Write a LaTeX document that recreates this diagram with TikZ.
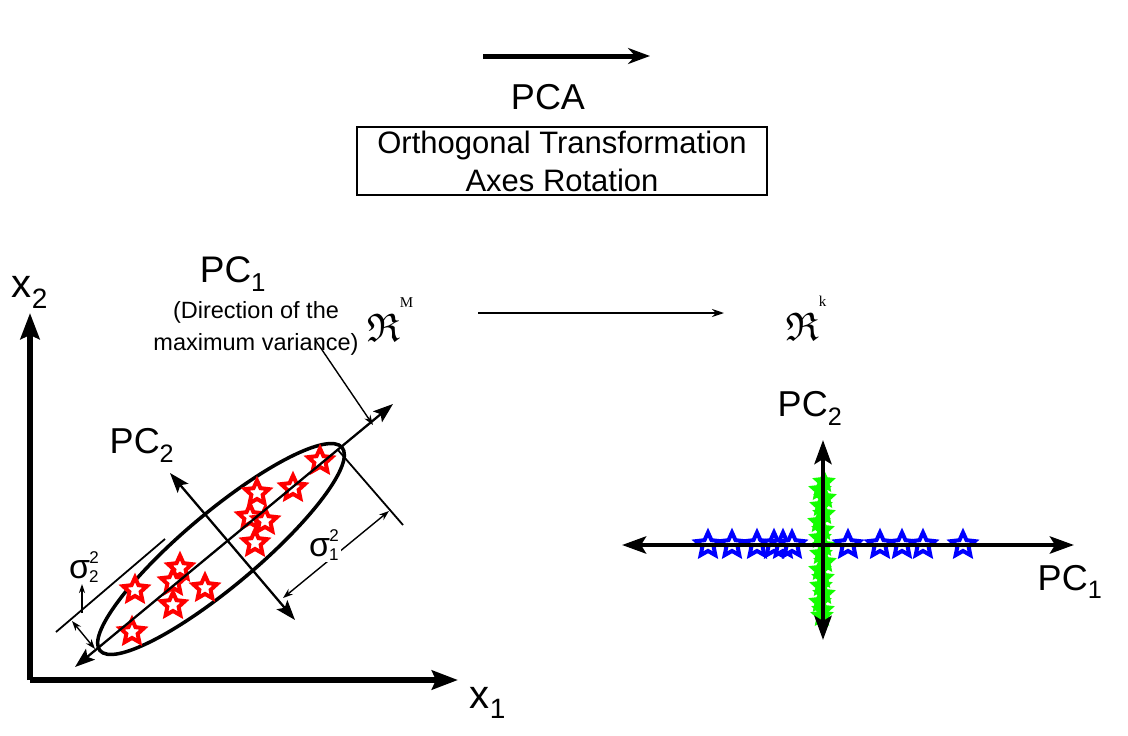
\documentclass[tikz,border=0pt]{standalone}
\usepackage{amssymb}
\usepackage{graphicx}
\usepackage{fontspec}
\setmainfont{Liberation Sans}
\newfontfamily\serifm{Liberation Serif}
\usetikzlibrary{shapes.geometric,arrows.meta}
\newcommand{\sigl}[1]{σ\kern-1pt\raisebox{-4pt}{\fontsize{17}{17}\selectfont #1}\kern-9pt\raisebox{15pt}{\fontsize{17}{17}\selectfont 2}}
\begin{document}
\begin{tikzpicture}[x=1pt,y=-1pt,
  ax/.style={line width=5pt,-{Stealth[length=22pt,width=16pt]}},
  dax/.style={line width=4.5pt,{Stealth[length=24pt,width=17pt,inset=5pt]}-{Stealth[length=24pt,width=17pt,inset=5pt]}},
  thin/.style={line width=1.8pt},
  dim/.style={line width=1.4pt,{Stealth[length=10pt,width=7pt]}-{Stealth[length=10pt,width=7pt]}},
  st/.style={star,star points=5,star point ratio=2.1,draw=#1,line width=4pt,fill=white,minimum size=25pt,inner sep=0pt},
  lbl/.style={inner sep=0pt}]
\useasboundingbox (0,0) rectangle (1128,736);
% top
\coordinate (ta) at (483,56); \coordinate (tb) at (650,56);
\draw[ax] (ta) -- (tb);
\node[lbl,font=\fontsize{36}{40}\selectfont] (pca) at (548,97) {PCA};
\node[draw,line width=1.8pt,minimum width=410pt,minimum height=56pt,align=center,font=\fontsize{31}{38}\selectfont] (box) at (562,161) {Orthogonal Transformation\\Axes Rotation};
% left axes
\coordinate (o) at (30,680);
\coordinate (y2) at (30,313); \coordinate (x1e) at (458,680);
\draw[line width=6.5pt,-{Stealth[length=26pt,width=19pt,inset=4pt]}] (o) -- (y2);
\draw[line width=6.5pt,-{Stealth[length=26pt,width=19pt,inset=4pt]}] (o) -- (x1e);
\node[lbl,font=\fontsize{40}{44}\selectfont] (x2l) at (30,292) {x$_{\mathrm{2}}$};
\node[lbl,font=\fontsize{40}{44}\selectfont] (x1l) at (488,703) {x$_{\mathrm{1}}$};
% ellipse
\node[ellipse,draw,line width=3.5pt,minimum width=316pt,minimum height=74pt,rotate=40] (ell) at (221,549) {};
% stars
\foreach \p in {(135,590),(180,568),(173,582),(173,605),(205,588),(132,632),(257,493),(250,517),(265,521),(255,543),(293,488),(320,461)}
  \node[st=red] at \p {};
% PC axes
\coordinate (p1a) at (75,667); \coordinate (p1b) at (393,404);
\draw[line width=2.3pt,{Stealth[length=20pt,width=14pt,inset=4pt]}-{Stealth[length=20pt,width=14pt,inset=4pt]}] (p1a) -- (p1b);
\coordinate (p2a) at (295,620); \coordinate (p2b) at (170,473);
\draw[line width=2.3pt,{Stealth[length=20pt,width=14pt,inset=4pt]}-{Stealth[length=20pt,width=14pt,inset=4pt]}] (p2a) -- (p2b);
\node[lbl,font=\fontsize{36}{38}\selectfont] (pc2l) at (142,445) {PC$_{\mathrm{2}}$};
% sigma 2
\coordinate (s2a) at (56,632); \coordinate (s2b) at (165,539);
\draw[thin] (s2a) -- (s2b);
\coordinate (d2a) at (72,621); \coordinate (d2b) at (95,649);
\draw[dim] (d2a) -- (d2b);
\coordinate (u2a) at (82,613); \coordinate (u2b) at (82,584);
\draw[line width=1.4pt,-{Stealth[length=9pt,width=6pt]}] (u2a) -- (u2b);
\node[lbl,font=\fontsize{34}{36}\selectfont] (s2l) at (84,567) {\sigl{2}};
% sigma 1
\coordinate (s1a) at (338,450); \coordinate (s1b) at (403,525);
\draw[thin] (s1a) -- (s1b);
\coordinate (d1a) at (283,598); \coordinate (d1b) at (389,511);
\draw[dim] (d1a) -- (d1b);
\node[lbl,fill=white,inner sep=2pt,font=\fontsize{34}{36}\selectfont] (s1l) at (324,545) {\sigl{1}};
% PC1 label
\node[lbl,font=\fontsize{37}{40}\selectfont] (pc1l) at (233,274) {PC$_{\mathrm{1}}$};
\node[lbl,align=center,font=\fontsize{23.5}{32}\selectfont] (dir) at (256,328) {(Direction of the\\maximum variance)};
\coordinate (la) at (316,341); \coordinate (lb) at (373,425);
\draw[line width=1.4pt,-{Stealth[length=10pt,width=7pt]}] (la) -- (lb);
% spaces
\node[lbl] (rm) at (390,320) {\scalebox{4}{$\mathfrak{R}$}\raisebox{34pt}{\serifm\fontsize{15}{15}\selectfont M}};
\node[lbl] (rk) at (806,318) {\scalebox{4}{$\mathfrak{R}$}\raisebox{34pt}{\serifm\fontsize{15}{15}\selectfont k}};
\coordinate (ma) at (478,313); \coordinate (mb) at (724,313);
\draw[line width=1.8pt,-{Stealth[length=12pt,width=8pt]}] (ma) -- (mb);
% right plot
\foreach \y/\dx in {482/2,490/-2,498/3,506/-1,514/2,522/-3,530/1,538/-2,546/2,554/-1,562/3,570/-2,578/1,586/-1,594/2,602/-2,610/1,616/0}
  \node[star,star points=5,star point ratio=2.1,fill=green!90!lime,draw=green!90!lime,line width=2pt,minimum size=20pt,inner sep=0pt] at (822+\dx,\y) {};
\foreach \x in {708,732,757,774,783,792,848,880,902,923,963}
  \node[st=blue] at (\x,545) {};
\coordinate (ha) at (622,545); \coordinate (hb) at (1074,545);
\draw[dax] (ha) -- (hb);
\coordinate (va) at (823,440); \coordinate (vb) at (823,640);
\draw[dax] (va) -- (vb);
\node[lbl,font=\fontsize{36}{38}\selectfont] (rpc2) at (810,408) {PC$_{\mathrm{2}}$};
\node[lbl,font=\fontsize{36}{38}\selectfont] (rpc1) at (1070,582) {PC$_{\mathrm{1}}$};
\end{tikzpicture}
\end{document}
